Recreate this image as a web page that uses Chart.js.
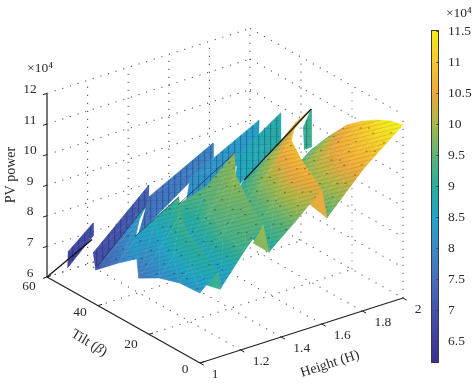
<!DOCTYPE html>
<html><head><meta charset="utf-8">
<style>html,body{margin:0;padding:0;background:#fff}canvas{position:absolute;top:0}#m{left:0}#c{left:400px}</style>
<script src="https://cdn.jsdelivr.net/npm/chart.js@4"></script></head>
<body><canvas id="m" width="474" height="384"></canvas><canvas id="c" width="74" height="384"></canvas>
<script>
// ---- axis ticks
const heightTicks=[1,1.2,1.4,1.6,1.8,2];
const tiltTicks=[0,20,40,60];
const powerTicks=[6,7,8,9,10,11,12];
const colorbarTicks=[6.5,7,7.5,8,8.5,9,9.5,10,10.5,11,11.5];
const colorbarRange=[6.145,11.52];
// ---- colour map: value, colour
const mapValues=[6.15,6.5,7,7.5,8,8.5,9,9.5,10,10.5,11,11.5];
const mapColours=['#3d2f8f','#413f9e','#4455ac','#4470bb','#3a8bc9','#22a5c7','#2aae9e','#62b474','#a9b94a','#f0a93c','#f7c72e','#f5ec1c'];
// ---- surface sheets: tilt per column, height and power per row (row = low/mid/high height side)
const tiltS6=[0,5,10,16,22,29,36];
const heightS6=[[1.626,1.632,1.651,1.69,1.754,1.86,2],[1.81,1.815,1.825,1.845,1.877,1.93,2],[2,2,2,2,2,2,2]];
const powerS6=[[9.41,9.55,9.7,9.7,9.61,9.4,9.15],[10.65,10.65,10.57,10.4,10.13,9.7,9.15],[11.65,11.55,11.35,11.03,10.62,9.93,9.15]];
const tiltS5=[0,10,20,30,36];
const heightS5=[[1.34,1.36,1.426,1.547,1.67],[1.47,1.49,1.56,1.7,1.83],[1.6,1.625,1.7,1.85,2]];
const powerS5=[[8.9,8.95,8.99,8.92,8.87],[9.62,9.7,9.8,9.75,9.55],[10.38,10.84,10.86,10.66,10.49]];
const tiltS4=[0,10,20,30];
const heightS4=[[1.1,1.117,1.171,1.27],[1.22,1.24,1.3,1.41],[1.31,1.36,1.426,1.547]];
const powerS4=[[8.2,8.3,8.5,9.2],[9.19,9.3,9.4,9.5],[9.85,10.09,10.3,10.29]];
const toneShiftS4=[0,0,-0.45];
const tiltS3=[0,8,16,24,33];
const heightS3=[[1,1,1,1,1.093],[1.045,1.055,1.07,1.1,1.2],[1.09,1.11,1.145,1.204,1.31]];
const powerS3=[[8.29,8.24,8.03,7.65,8.38],[8.55,8.68,8.6,8.36,8.8],[8.78,9.08,9.13,9.28,9.22]];
const tiltS2=[24,32,41,45];
const heightS2=[[1,1,1,1.06],[1.004,1.081,1.215,1.297]];
const powerS2=[[8.3,7.77,7.12,6.93],[8.3,8.35,8.29,8.39]];
// ---- rear hatched strips: corners as height, tilt, power, colour value
const strip1=[[1.103,60,6.6,6.6],[1.227,60,7.28,6.9],[1.227,60,6.86,6.9],[1,52,6.67,6.5]];
const strip2=[[1.227,60,6.3,6.8],[1.502,60,7.94,7.3],[1.498,60,7.3,7.2],[1,41,7.12,6.9]];
const strip3=[[1.502,60,7.55,7.5],[1.818,60,8.64,7.9],[1.818,60,8.15,7.9],[1.448,60,6.42,7.6]];
const strip4=[[1.704,60,7.74,8.1],[1.994,56,9.2,8.4],[1.989,56,8.3,8.4],[1.68,60,6.81,8.1]];
const strip5=[[1.79,48,8.87,8.6],[2,48,9.8,8.9],[2,48,8.85,8.9],[1.77,48,7.77,8.6]];
const strip6=[[1.96,36,9.95,9.1],[2,36,10.49,9.2],[2,36,9.25,9.2],[1.965,36,9.24,9.1]];
// ---- drop walls between sheets: height, tilt, power, colour value
const wall6=[[1.6,0,10.38,10.5],[1.626,0,9.41,10.4],[1.633,8,9.51,10.4]];
const wall5=[[1.31,0,9.85,9.9],[1.34,0,8.9,9.8],[1.362,8,8.78,9.7]];
const wall4=[[1.09,0,8.78,9.2],[1.1,0,8.2,9.2],[1.105,6,8.05,9]];
// ---- dark creases
const crease1=[[1,60,6],[1.222,60,6.75]];

// 3D axes projected on the page plane
function project(h,t,p){return {x:200+(h-1)*203-t*2.55,y:363-(h-1)*65-t*1.4333-(p-6)*30.6};}
function hex(s){return [1,3,5].map(i=>parseInt(s.substr(i,2),16));}
function colour(v){
  if(v<=mapValues[0])return mapColours[0];
  for(let i=1;i<mapValues.length;i++){if(v<=mapValues[i]){
    const f=(v-mapValues[i-1])/(mapValues[i]-mapValues[i-1]),a=hex(mapColours[i-1]),b=hex(mapColours[i]);
    return 'rgb('+a.map((q,k)=>Math.round(q+(b[k]-q)*f)).join(',')+')';}}
  return mapColours[mapColours.length-1];
}
const mainCtx=document.getElementById('m').getContext('2d');
const sets=[];
function triPaint(vs){
  const [A,B,C]=vs;
  const det=(B.x-A.x)*(C.y-A.y)-(C.x-A.x)*(B.y-A.y);
  const ts=vs.map(v=>v.t),lo=Math.min(...ts),hi=Math.max(...ts);
  if(Math.abs(det)<1e-6||hi-lo<1e-6)return colour((lo+hi)/2);
  const a=((B.t-A.t)*(C.y-A.y)-(C.t-A.t)*(B.y-A.y))/det;
  const b=((B.x-A.x)*(C.t-A.t)-(C.x-A.x)*(B.t-A.t))/det;
  const g=a*a+b*b,s=vs[ts.indexOf(lo)],k=(hi-lo)/g;
  const gr=mainCtx.createLinearGradient(s.x,s.y,s.x+a*k,s.y+b*k);
  for(let i=0;i<=6;i++)gr.addColorStop(i/6,colour(lo+(hi-lo)*i/6));
  return gr;
}
function addPoly(vs,paint,border,width){
  sets.push({data:vs.map(v=>({x:v.x,y:v.y})),showLine:true,fill:'shape',backgroundColor:paint,borderColor:border===undefined?paint:border,borderWidth:width===undefined?0.7:width,pointRadius:0,tension:0});
}
function addTri(a,b,c){const vs=[a,b,c];addPoly(vs,triPaint(vs));}
function vert(h,t,p,c){const q=project(h,t,p);return {x:q.x,y:q.y,t:c===undefined?p:c};}
// mesh texture over the smooth sheets
const tc=document.createElement('canvas');tc.width=36;tc.height=24;
const tx=tc.getContext('2d');tx.fillStyle='rgba(25,35,30,.13)';
for(let y=0;y<24;y+=4)tx.fillRect(0,y,36,1);
tx.fillStyle='rgba(15,20,15,.42)';[[5,3],[22,7],[13,15],[30,19],[2,21]].forEach(p=>tx.fillRect(p[0],p[1],2,1));
const meshTexture=mainCtx.createPattern(tc,'repeat');
meshTexture.setTransform(new DOMMatrix().rotate(-14));
function addSheet(tilts,heights,powers,toneShift){
  const sh=r=>toneShift?toneShift[r]:0;
  for(let r=0;r<heights.length-1;r++)for(let c=0;c<tilts.length-1;c++){
    const a=vert(heights[r][c],tilts[c],powers[r][c],powers[r][c]+sh(r)),b=vert(heights[r][c+1],tilts[c+1],powers[r][c+1],powers[r][c+1]+sh(r));
    const d=vert(heights[r+1][c],tilts[c],powers[r+1][c],powers[r+1][c]+sh(r+1)),e=vert(heights[r+1][c+1],tilts[c+1],powers[r+1][c+1],powers[r+1][c+1]+sh(r+1));
    addTri(a,b,e);addTri(a,e,d);
    addPoly([a,b,e,d],meshTexture,'rgba(0,0,0,0)',0);
  }
}
function addLine(pts,col,w,dash){
  sets.push({data:pts.map(p=>project(p[0],p[1],p[2])),showLine:true,fill:false,borderColor:col,borderWidth:w,borderDash:dash||[],pointRadius:0,tension:0});
}
// hatch pattern for the coarse mesh on the rear strips
const pc=document.createElement('canvas');pc.width=6;pc.height=8;
const px=pc.getContext('2d');px.fillStyle='rgba(20,30,70,.30)';px.fillRect(0,0,1.2,8);px.fillStyle='rgba(20,30,70,.10)';px.fillRect(0,0,6,1);
const hatch=mainCtx.createPattern(pc,'repeat');
function addStrip(s){
  const v=s.map(q=>vert(q[0],q[1],q[2],q[3]));
  addTri(v[0],v[1],v[2]);addTri(v[0],v[2],v[3]);
  addPoly(v,hatch,'rgba(0,0,0,0)',0);
}
function addWall(w){addTri(...w.map(q=>vert(q[0],q[1],q[2],q[3])));}
function lastCol(hs,ps,t){const n=t.length-1;return [[hs[0][n],t[n],ps[0][n]],[hs[hs.length-1][n],t[n],ps[ps.length-1][n]]];}

// back walls and floor grid (dotted)
const dotted=[1.2,6.8],gc='#5c5c5c';
powerTicks.forEach(p=>{addLine([[1,60,p],[2,60,p]],gc,1.1,dotted);addLine([[2,60,p],[2,0,p]],gc,1.1,dotted);});
heightTicks.forEach(h=>{if(h>1)addLine([[h,60,6],[h,60,12]],gc,1.1,dotted);if(h<2&&h>1)addLine([[h,0,6],[h,60,6]],gc,1.1,dotted);});
tiltTicks.forEach(t=>{if(t<60)addLine([[2,t,6],[2,t,12]],gc,1.1,dotted);if(t>0)addLine([[1,t,6],[2,t,6]],gc,1.1,dotted);});
// axes
addLine([[1,60,6],[1,60,12]],'#555',1.6);
addLine([[1,60,6],[1,0,6]],'#222',1.3);
addLine([[1,0,6],[2,0,6]],'#222',1.3);
powerTicks.forEach(p=>addLine([[1,60,p],[0.98,60,p]],'#222',1));
tiltTicks.forEach(t=>addLine([[1,t,6],[1.02,t,6]],'#222',1));
heightTicks.forEach(h=>addLine([[h,0,6],[h,-1.5,6]],'#222',1));
// surface, back to front
[strip1,strip2,strip3,strip4,strip5,strip6].forEach(addStrip);
addSheet(tiltS6,heightS6,powerS6);addWall(wall6);
addSheet(tiltS5,heightS5,powerS5);addWall(wall5);
addSheet(tiltS4,heightS4,powerS4,toneShiftS4);addWall(wall4);
addSheet(tiltS3,heightS3,powerS3);
addSheet(tiltS2,heightS2,powerS2);
addLine(crease1,'#111',1.3);
addLine(lastCol(heightS2,powerS2,tiltS2),'rgba(20,20,50,.7)',0.8);
addLine(lastCol(heightS3,powerS3,tiltS3),'rgba(20,20,50,.6)',0.8);
addLine(lastCol(heightS4,powerS4,tiltS4),'rgba(20,20,40,.7)',0.8);
addLine(lastCol(heightS5,powerS5,tiltS5),'#1a1a1a',1.3);

const serif='"Liberation Serif","DejaVu Serif",serif',ink='#2b2b2b';
const labels={id:'labels',afterDraw(ch){
  const g=ch.ctx,sx=ch.scales.x,sy=ch.scales.y;
  const at=(h,t,p)=>{const q=project(h,t,p);return [sx.getPixelForValue(q.x),sy.getPixelForValue(q.y)];};
  g.save();g.fillStyle=ink;g.textAlign='center';g.textBaseline='middle';g.font='13.5px '+serif;
  powerTicks.forEach(p=>{const [x,y]=at(1,60,p);g.fillText(String(p),x-17,y-4);});
  tiltTicks.forEach(t=>{const [x,y]=at(1,t,6);g.fillText(String(t),x-(t==0?15:18),y+(t==60?9:t==40?7:t==20?10:6));});
  heightTicks.forEach(h=>{const [x,y]=at(h,0,6);g.fillText(String(h),x+(h==1||h==2?15:20.5),y+11.5);});
  g.fillText('×10⁴',40,68);
  g.font='14px '+serif;
  g.save();g.translate(11,175);g.rotate(-Math.PI/2);g.fillText('PV power',0,0);g.restore();
  g.save();g.translate(330,364);g.rotate(-18*Math.PI/180);g.fillText('Height (H)',0,0);g.restore();
  g.save();g.translate(89,343);g.rotate(31*Math.PI/180);g.textAlign='left';
  const parts=[['Tilt (','14px '],['β','italic 14px '],[')','14px ']];
  let w=0;parts.forEach(q=>{g.font=q[1]+serif;w+=g.measureText(q[0]).width;});
  let c=-w/2;parts.forEach(q=>{g.font=q[1]+serif;g.fillText(q[0],c,0);c+=g.measureText(q[0]).width;});
  g.restore();g.restore();
}};
new Chart(document.getElementById('m'),{type:'scatter',data:{datasets:sets.reverse()},plugins:[labels],options:{
  responsive:false,animation:false,events:[],layout:{padding:0},clip:false,
  plugins:{legend:{display:false},tooltip:{enabled:false},colors:{enabled:false}},
  scales:{x:{type:'linear',display:false,min:0,max:474},y:{type:'linear',display:false,min:0,max:384,reverse:true}}
}});

// colour bar: a second chart with its own value axis
const bands=[];for(let v=colorbarRange[0];v<colorbarRange[1];v+=0.05)bands.push(v);
const cbFrame={id:'cbFrame',afterDraw(ch){
  const g=ch.ctx,a=ch.chartArea,s=ch.scales.y;
  g.save();g.strokeStyle='#3a3a3a';g.lineWidth=1;g.strokeRect(a.left+.5,a.top+.5,a.right-a.left-1,a.bottom-a.top-1);
  colorbarTicks.forEach(v=>{const y=Math.round(s.getPixelForValue(v))+.5;g.beginPath();g.moveTo(a.right-2.5,y);g.lineTo(a.right,y);g.stroke();});
  g.fillStyle=ink;g.font='13.5px '+serif;g.textAlign='left';g.textBaseline='middle';g.fillText('×10⁴',46,13);g.restore();
}};
new Chart(document.getElementById('c'),{type:'bar',
  data:{labels:[''],datasets:bands.map(v=>({data:[[v,v+0.06]],backgroundColor:colour(v+0.03),borderWidth:0,barPercentage:1,categoryPercentage:1,grouped:false}))},
  plugins:[cbFrame],
  options:{responsive:false,animation:false,events:[],layout:{padding:{left:31,top:30,bottom:21,right:0}},
    plugins:{legend:{display:false},tooltip:{enabled:false},colors:{enabled:false}},
    scales:{x:{display:false,stacked:false},
      y:{position:'right',min:colorbarRange[0],max:colorbarRange[1],
        afterBuildTicks(s){s.ticks=colorbarTicks.map(v=>({value:v}));},
        afterFit(s){s.width=35;},
        grid:{display:false,drawTicks:false,tickLength:0},border:{display:false},
        ticks:{padding:9,color:ink,font:{family:serif,size:13.5},autoSkip:false,callback:v=>String(v)}}}}
});
</script></body></html>
